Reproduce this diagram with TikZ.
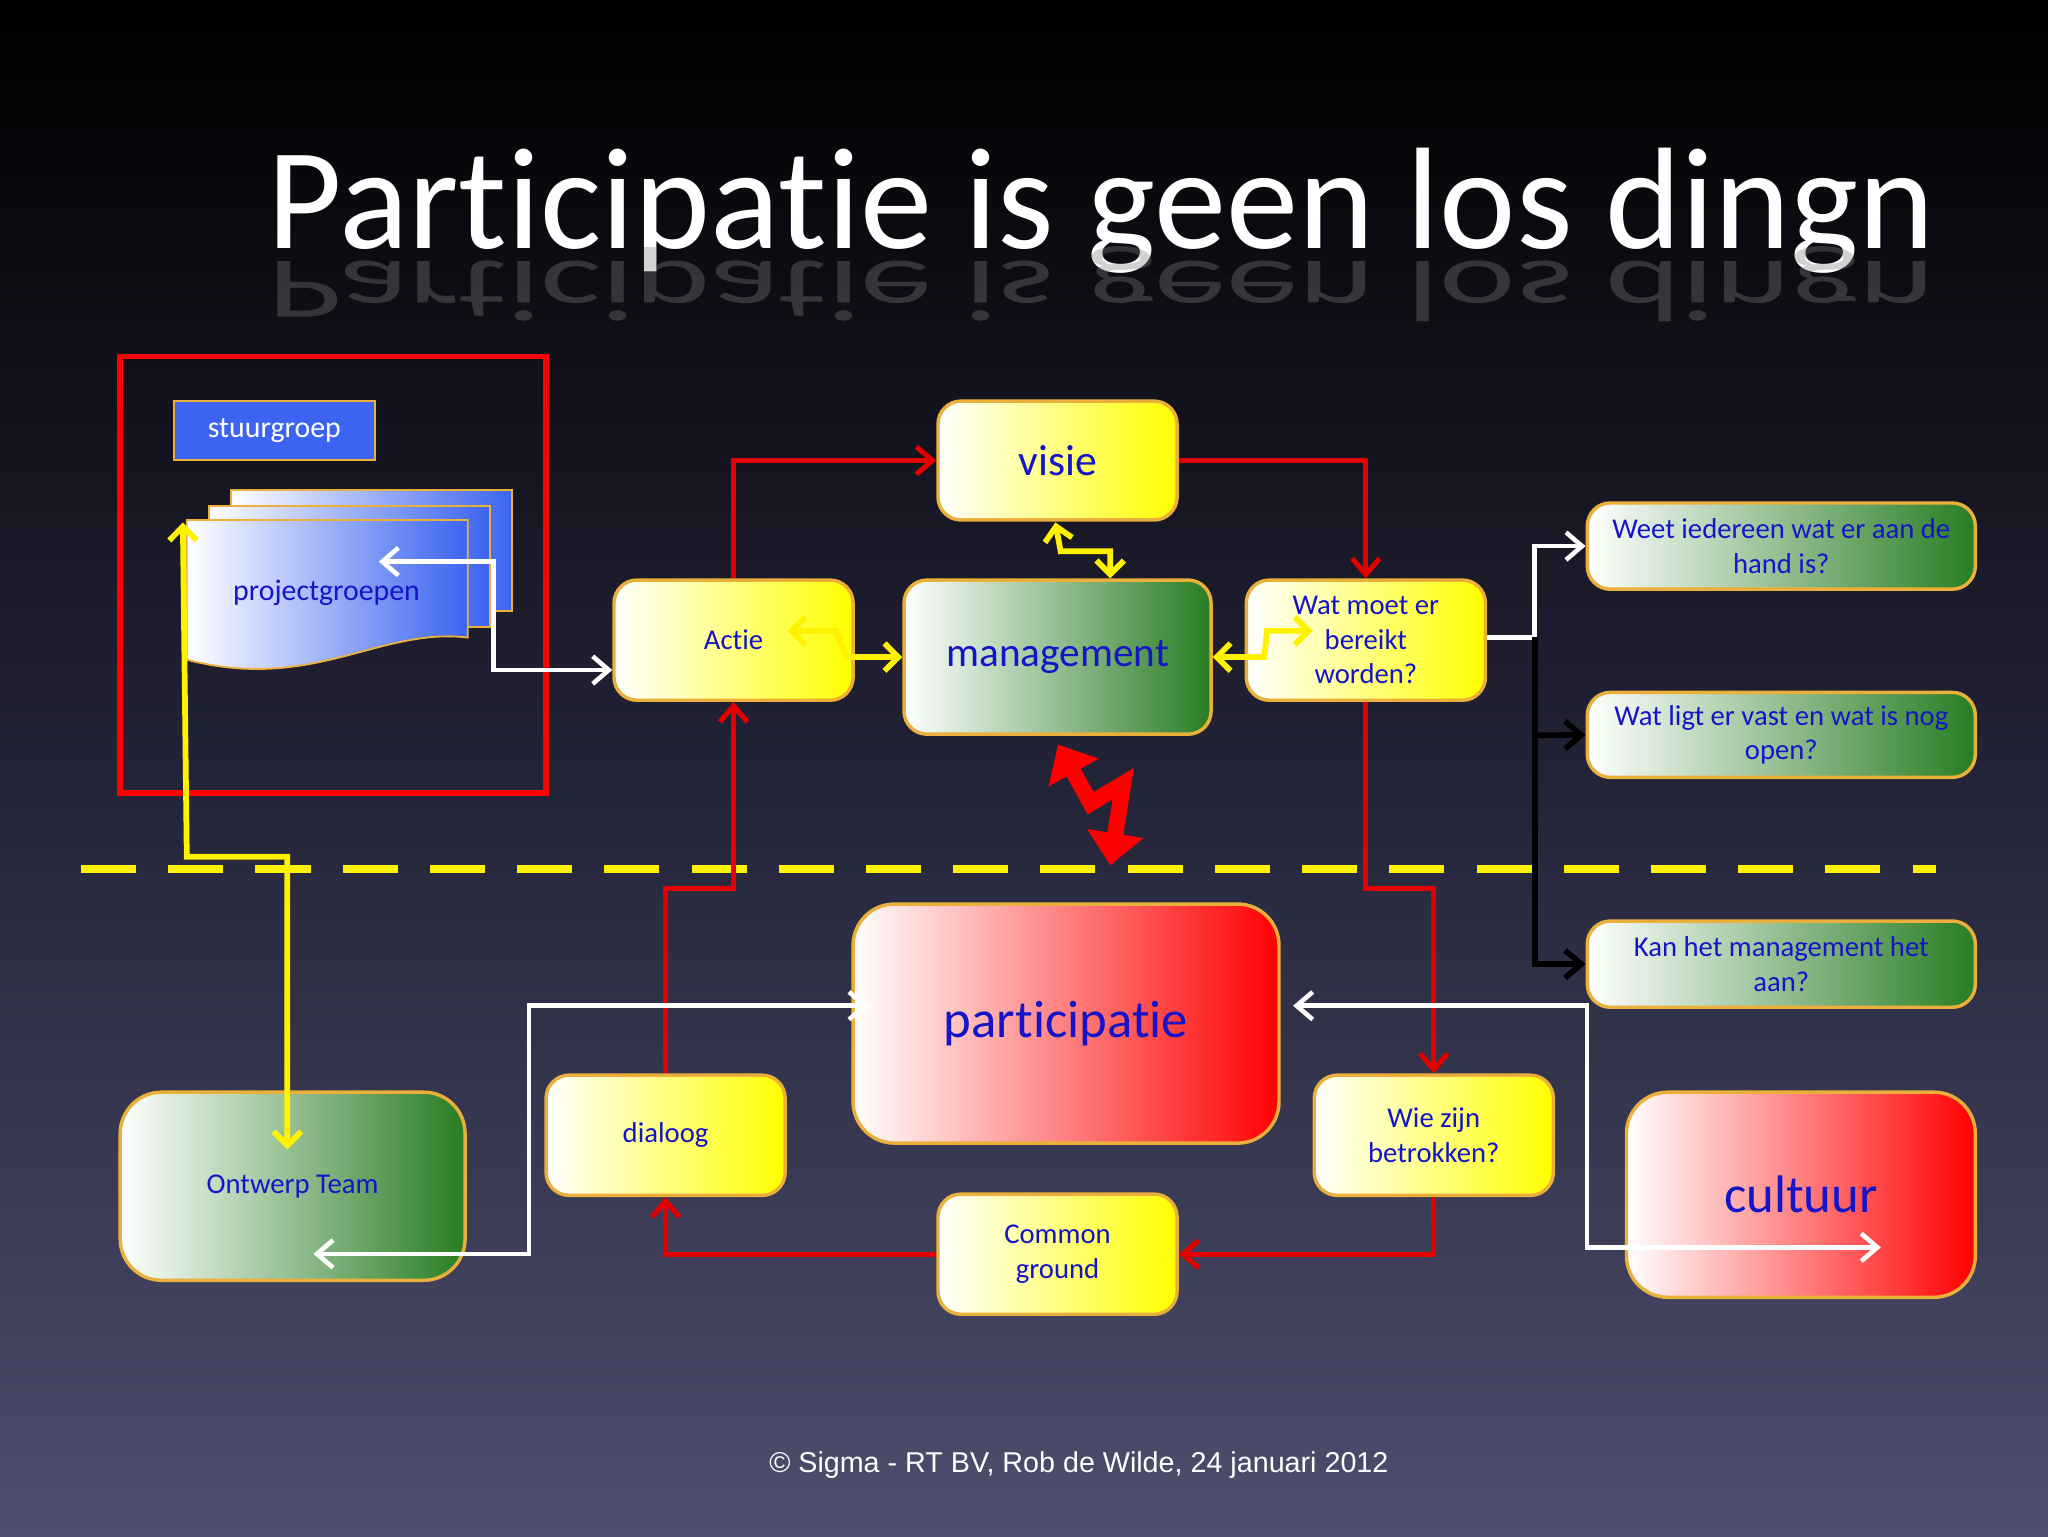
\documentclass[tikz,border=0pt]{standalone}
\usepackage{fontspec}
\setmainfont{Carlito}[RawFeature={-liga;-clig;-calt;-dlig}]
\newfontfamily\arialf{Liberation Sans}
\usetikzlibrary{arrows.meta}
\definecolor{tb}{RGB}{20,20,200}
\definecolor{gr}{RGB}{40,125,35}
\definecolor{bord}{RGB}{235,175,60}
\definecolor{bgb}{RGB}{78,78,110}
\definecolor{bgm}{RGB}{35,35,55}
\definecolor{pblue}{RGB}{60,100,240}
\tikzset{
 base/.style={draw=bord, line width=1.5pt, rounded corners=10pt, text=tb, align=center, font=\fontsize{12.5}{15}\selectfont},
 yb/.style={base, left color=white, right color=yellow},
 gb/.style={base, left color=white, right color=gr},
 rb/.style={base, left color=white, right color=red},
 ra/.style={draw=red!90!black, line width=2.2pt, -{Straight Barb[length=7pt,width=12pt]}},
 ya/.style={draw=yellow, line width=2.5pt, {Straight Barb[length=6pt,width=12pt]}-{Straight Barb[length=6pt,width=12pt]}},
 wa/.style={draw=white, line width=2pt, {Straight Barb[length=7pt,width=12pt]}-{Straight Barb[length=7pt,width=12pt]}},
}
\newcommand\mkbox[7]{\node[#6, minimum width={(#4-#2)*0.02cm}, minimum height={(#5-#3)*0.02cm}, inner sep=2pt] (#1) at ({(#2+#4)/2*0.02},{-(#3+#5)/2*0.02}) {#7};}
\begin{document}
\begin{tikzpicture}
\shade[top color=black, bottom color=bgb, middle color=bgm] (0,0) rectangle (31.36,-23.52);
\useasboundingbox (0,0) rectangle (31.36,-23.52);
% title
\node[text=white, font=\fontsize{63}{70}\selectfont, anchor=base] (title) at (16.86,-3.8) {Participatie is geen los dingn};
\node[text=gray, opacity=0.35, yscale=-0.6, font=\fontsize{63}{70}\selectfont, anchor=base] (refl) at (16.86,-4.0) {Participatie is geen los dingn};
% red frame
\draw[red, line width=2.5pt] (1.84,-5.46) rectangle (8.36,-12.14);
\mkbox{stuur}{133}{307}{287}{352}{draw=bord, line width=1pt, fill=pblue, text=white, font=\fontsize{13}{15}\selectfont}{stuurgroep}
% projectgroepen document stack
\begin{scope}[x=0.02cm,y=-0.02cm]
\draw[bord, line width=0.8pt, left color=white, right color=pblue] (177,375) rectangle (392,468);
\draw[bord, line width=0.8pt, left color=white, right color=pblue] (160,387) rectangle (375,480);
\draw[bord, line width=0.8pt, left color=white, right color=pblue] (143,398) -- (358,398) -- (358,488) .. controls (290,480) and (240,530) .. (143,505) -- cycle;
\end{scope}
\node[text=tb, font=\fontsize{13}{15}\selectfont] (proj) at (5.0,-9.08) {projectgroepen};
% boxes
\mkbox{visie}{718}{307}{901}{398}{yb, font=\fontsize{19}{22}\selectfont}{visie}
\mkbox{actie}{470}{444}{653}{536}{yb}{Actie}
\mkbox{mgmt}{692}{444}{927}{562}{gb, font=\fontsize{18}{22}\selectfont}{management}
\mkbox{wat}{954}{444}{1137}{536}{yb}{Wat moet er\\bereikt\\worden?}
\mkbox{weet}{1215}{385}{1512}{451}{gb}{Weet iedereen wat er aan de\\hand is?}
\mkbox{ligt}{1215}{530}{1512}{595}{gb}{Wat ligt er vast en wat is nog\\open?}
\mkbox{kan}{1215}{705}{1512}{771}{gb}{Kan het management het\\aan?}
\mkbox{part}{653}{692}{979}{875}{rb, rounded corners=18pt, font=\fontsize{23}{26}\selectfont}{participatie}
\mkbox{cult}{1245}{836}{1512}{993}{rb, rounded corners=18pt, font=\fontsize{23}{26}\selectfont}{cultuur}
\mkbox{ont}{92}{836}{356}{980}{gb, rounded corners=18pt}{Ontwerp Team}
\mkbox{dia}{418}{823}{601}{915}{yb}{dialoog}
\mkbox{wie}{1006}{823}{1189}{915}{yb}{Wie zijn\\betrokken?}
\mkbox{cg}{718}{914}{901}{1006}{yb}{Common\\ground}
% dashed line
\draw[yellow, line width=3.5pt, dash pattern=on 24pt off 14pt] (1.24,-13.3) -- (29.64,-13.3);
% coordinates
\coordinate (ry) at (0,-13.6);
% red cycle
\draw[ra] (actie.north) |- (visie.west);
\draw[ra] (visie.east) -| (wat.north);
\draw[ra] (wat.south) -- (wat.south |- ry) -| (wie.north);
\draw[ra] (wie.south) |- (cg.east);
\draw[ra] (cg.west) -| (dia.south);
\draw[ra] (dia.north) -- (dia.north |- ry) -| (actie.south);
% lightning
\coordinate (l1) at (16.2,-11.4);
\coordinate (l2) at (16.7,-12.3);
\coordinate (l3) at (17.2,-12.0);
\coordinate (l4) at (17.0,-13.25);
\draw[red, line width=7pt, line join=miter, {Triangle[length=14pt,width=24pt]}-{Triangle[length=14pt,width=24pt]}] (l1) -- (l2) -- (l3) -- (l4);
% yellow double arrows
\draw[ya] (16.16,-8.0) -- (16.24,-8.44) -- (17.0,-8.44) -- (mgmt.north -| 17.0,0);
\draw[ya] (12.06,-9.66) -- (12.8,-9.66) -- (12.96,-10.06) -- (mgmt.west);
\draw[ya] (mgmt.east) -- (19.36,-10.06) -- (19.4,-9.66) -- (20.1,-9.66);
% white connectors
\draw[wa] (5.8,-8.6) -- (7.56,-8.6) |- (actie.west |- 0,-10.26);
\draw[yellow, line width=2.5pt, {Straight Barb[length=6pt,width=12pt]}-{Straight Barb[length=6pt,width=12pt]}] (2.8,-8.0) -- (2.86,-13.12) -- (4.4,-13.12) -- (4.4,-17.6);
\draw[wa] (4.8,-19.2) -- (8.1,-19.2) |- (13.3,-15.4);
\draw[wa] (19.8,-15.4) -- (24.3,-15.4) |- (28.8,-19.1);
% right branch
\draw[white, line width=2pt, -{Straight Barb[length=7pt,width=12pt]}] (wat.east |- 0,-9.76) -- (23.5,-9.76) |- (weet.west);
\draw[black, line width=2.5pt, -{Straight Barb[length=7pt,width=12pt]}] (23.5,-9.76) |- (kan.west);
\draw[black, line width=2.5pt, -{Straight Barb[length=7pt,width=12pt]}] (23.5,-11.26) -- (ligt.west);
% footer
\node[text=white, font=\arialf\fontsize{12.5}{15}\selectfont] (foot) at (16.52,-22.44) {© Sigma - RT BV, Rob de Wilde, 24 januari 2012};
\end{tikzpicture}
\end{document}
